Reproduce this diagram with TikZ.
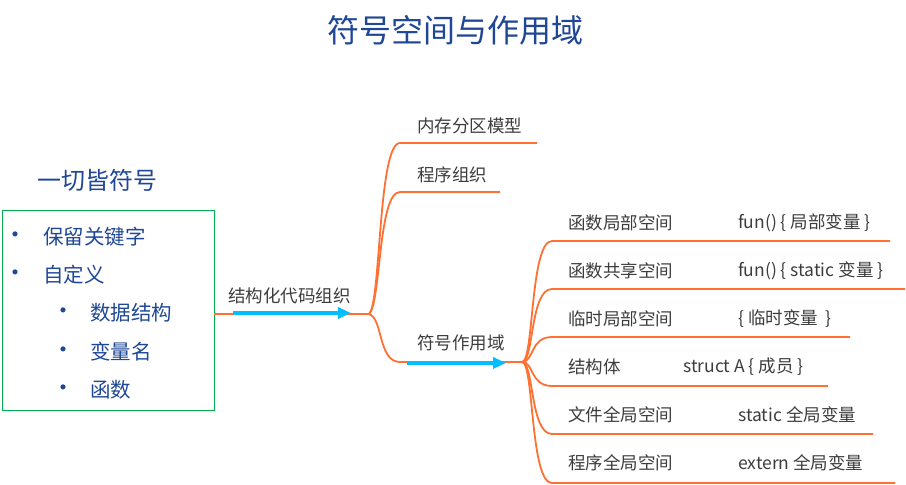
\documentclass[tikz,border=0pt]{standalone}
\usepackage{fontspec}
\setmainfont{Noto Sans CJK SC}
\usepackage{xcolor}
\definecolor{mmorange}{RGB}{255, 112, 50}
\definecolor{mmblue}{RGB}{31, 71, 150}
\definecolor{mmcyan}{RGB}{0, 190, 255}
\definecolor{mmgreen}{RGB}{0, 176, 80}
\definecolor{mmgray}{RGB}{60, 60, 60}
\usepackage{tikz}
\usetikzlibrary{arrows.meta, positioning}

\begin{document}
\begin{tikzpicture}[
    x=1pt, y=-1pt,
    branch/.style={draw=mmorange, line width=1.8pt},
    lbl/.style={anchor=west, inner sep=0pt, text=mmgray,
                font=\fontsize{17.5}{20}\selectfont},
    item/.style={anchor=west, inner sep=0pt, text=mmblue,
                 font=\fontsize{20.5}{24}\selectfont},
    dot/.style={anchor=center, inner sep=0pt, text=mmblue,
                font=\fontsize{24}{26}\selectfont},
    hint/.style={-{Triangle[length=13pt, width=11pt]}, mmcyan, line width=3.5pt}
  ]
  \useasboundingbox (0,0) rectangle (906,485);

  % title and left box
  \node[text=mmblue, font=\fontsize{32}{36}\selectfont] (title) at (455,30) {符号空间与作用域};
  \node[anchor=west, inner sep=0pt, text=mmblue, font=\fontsize{24}{28}\selectfont] (all) at (37,180) {一切皆符号};
  \node[draw=mmgreen, line width=1pt, minimum width=212pt, minimum height=200pt,
        inner sep=0pt] (box) at (108,310) {};

  \node[dot] (d1) at (16,238) {•};
  \node[item] (kw) at (43,237) {保留关键字};
  \node[dot] (d2) at (16,276) {•};
  \node[item] (def) at (43,275) {自定义};
  \node[dot] (d3) at (64,314) {•};
  \node[item] (ds) at (90,313) {数据结构};
  \node[dot] (d4) at (64,353) {•};
  \node[item] (var) at (90,352) {变量名};
  \node[dot] (d5) at (64,391) {•};
  \node[item] (fn) at (90,390) {函数};

  % first level
  \coordinate (j1) at (369,314);
  \coordinate (s0) at (214,314);
  \draw[branch] (s0) -- (j1);
  \node[lbl] (code) at (228,296) {结构化代码组织};
  \coordinate (a0) at (233,313);
  \coordinate (a1) at (351,313);
  \draw[hint] (a0) -- (a1);

  \coordinate (m1) at (400,143);  \coordinate (n1) at (537,143);
  \coordinate (m2) at (400,192);  \coordinate (n2) at (500,192);
  \coordinate (j2) at (522,362);
  \draw[branch] (j1) .. controls +(12,-10) and +(-22,0) .. (m1) -- (n1);
  \draw[branch] (j1) .. controls +(12,-10) and +(-22,0) .. (m2) -- (n2);
  \draw[branch] (j1) .. controls +(14,4) and +(-22,0) .. (400,362) -- (j2);
  \node[lbl] (mem) at (417,126) {内存分区模型};
  \node[lbl] (prog) at (417,175) {程序组织};
  \node[lbl] (sym) at (417,343) {符号作用域};
  \coordinate (b0) at (407,363);
  \coordinate (b1) at (506,363);
  \draw[hint] (b0) -- (b1);

  % second level
  \foreach \y/\e in {241/890, 289/905, 337/850, 386/828, 434/873, 483/895}{
    \draw[branch] (j2) .. controls +(12,0) and +(-22,0) .. (552,\y) -- (\e,\y);
  }
  \node[lbl] (loc) at (568,223) {函数局部空间};
  \node[lbl] (shr) at (568,271) {函数共享空间};
  \node[lbl] (tmp) at (568,319) {临时局部空间};
  \node[lbl] (st)  at (568,367) {结构体};
  \node[lbl] (fil) at (568,415) {文件全局空间};
  \node[lbl] (glb) at (568,463) {程序全局空间};
  \node[lbl] (locx) at (738,223) {fun() \{ 局部变量 \}};
  \node[lbl] (shrx) at (738,271) {fun() \{ static 变量 \}};
  \node[lbl] (tmpx) at (738,319) {\{ 临时变量 \ \}};
  \node[lbl] (stx)  at (683,367) {struct A \{ 成员 \}};
  \node[lbl] (filx) at (738,415) {static 全局变量};
  \node[lbl] (glbx) at (738,463) {extern 全局变量};
\end{tikzpicture}
\end{document}
